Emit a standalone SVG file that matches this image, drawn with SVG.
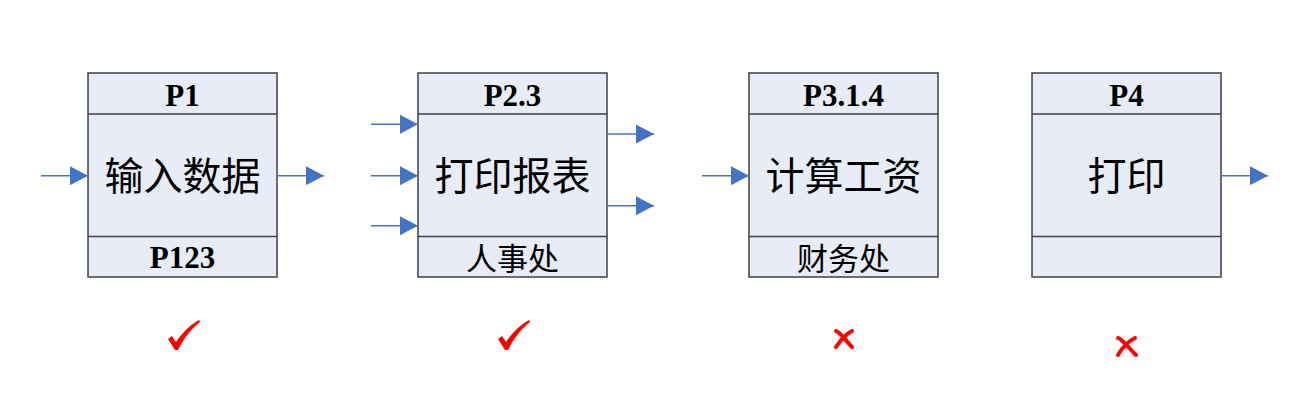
<svg xmlns="http://www.w3.org/2000/svg" width="1301" height="414" viewBox="0 0 1301 414">
<style>
.box{fill:#E7ECF7;stroke:#404040;stroke-width:1.5}
.div{stroke:#404040;stroke-width:1.5}
.hd{font-family:"Liberation Serif",serif;font-weight:bold;font-size:31px;text-anchor:middle;fill:#000}
.mn{font-family:"Liberation Serif","Noto Sans CJK SC",sans-serif;font-size:39px;text-anchor:middle;fill:#000}
.ft{font-family:"Liberation Serif","Noto Sans CJK SC",sans-serif;font-size:31px;text-anchor:middle;fill:#000}
.ar{stroke:#4472C4;stroke-width:1.5;fill:none}
.ah{fill:#4472C4}
.mk{fill:#FF0000}
.xm{stroke:#FF0000;stroke-width:4;stroke-linecap:round;fill:none}
</style>
<defs>
<marker id="arr" markerWidth="18" markerHeight="19" refX="18" refY="9.5" orient="auto" markerUnits="userSpaceOnUse">
<path d="M0,0 L18,9.5 L0,19 Z" class="ah"/>
</marker>
</defs>
<g id="node-p1">
<rect class="box" x="88" y="73" width="189" height="204"/>
<line class="div" x1="88" y1="114" x2="277" y2="114"/>
<line class="div" x1="88" y1="236.5" x2="277" y2="236.5"/>
<text class="hd" x="182.5" y="106">P1</text>
<text class="mn" x="182.5" y="190">输入数据</text>
<text class="hd" x="182.5" y="268">P123</text>
</g>
<g id="node-p23">
<rect class="box" x="418" y="73" width="189" height="204"/>
<line class="div" x1="418" y1="114" x2="607" y2="114"/>
<line class="div" x1="418" y1="236.5" x2="607" y2="236.5"/>
<text class="hd" x="512.5" y="106">P2.3</text>
<text class="mn" x="512.5" y="190">打印报表</text>
<text class="ft" x="512.5" y="270">人事处</text>
</g>
<g id="node-p314">
<rect class="box" x="749" y="73" width="189" height="204"/>
<line class="div" x1="749" y1="114" x2="938" y2="114"/>
<line class="div" x1="749" y1="236.5" x2="938" y2="236.5"/>
<text class="hd" x="843.5" y="106">P3.1.4</text>
<text class="mn" x="843.5" y="190">计算工资</text>
<text class="ft" x="843.5" y="270">财务处</text>
</g>
<g id="node-p4">
<rect class="box" x="1032" y="73" width="189" height="204"/>
<line class="div" x1="1032" y1="114" x2="1221" y2="114"/>
<line class="div" x1="1032" y1="236.5" x2="1221" y2="236.5"/>
<text class="hd" x="1126.5" y="106">P4</text>
<text class="mn" x="1126.5" y="190">打印</text>
</g>
<g id="connectors">
<line class="ar" x1="41" y1="175.7" x2="88" y2="175.7" marker-end="url(#arr)"/>
<line class="ar" x1="277" y1="175.7" x2="324" y2="175.7" marker-end="url(#arr)"/>
<line class="ar" x1="371" y1="124.3" x2="418" y2="124.3" marker-end="url(#arr)"/>
<line class="ar" x1="371" y1="175.7" x2="418" y2="175.7" marker-end="url(#arr)"/>
<line class="ar" x1="371" y1="225.7" x2="418" y2="225.7" marker-end="url(#arr)"/>
<line class="ar" x1="607" y1="134" x2="654" y2="134" marker-end="url(#arr)"/>
<line class="ar" x1="607" y1="205.7" x2="654" y2="205.7" marker-end="url(#arr)"/>
<line class="ar" x1="702" y1="175.7" x2="749" y2="175.7" marker-end="url(#arr)"/>
<line class="ar" x1="1221" y1="175.7" x2="1268" y2="175.7" marker-end="url(#arr)"/>
</g>
<g id="marks">
<path class="mk" d="M168,339 L172,336 L176,342 C182,333 190,325 199,320 L200,322 C191,329 184,338 178,350 L175,350 Z"/>
<path class="mk" d="M498,339 L502,336 L506,342 C512,333 520,325 529,320 L530,322 C521,329 514,338 508,350 L505,350 Z"/>
<path class="xm" d="M836,331 C840,332 846,341 852,347 M852,331 C846,334 840,341 836,347"/>
<path class="xm" d="M1118,338 C1122,339 1129,348 1136,355 M1135,338 C1129,341 1122,348 1118,355"/>
</g>
</svg>
